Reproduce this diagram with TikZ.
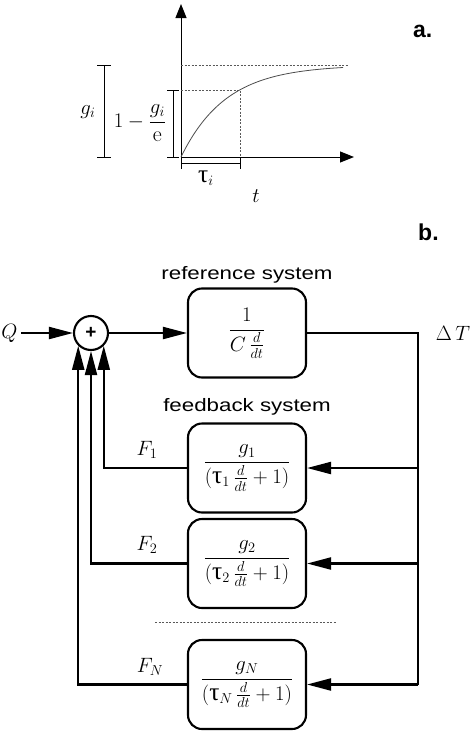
\documentclass[tikz,border=0pt]{standalone}
\usepackage{amsmath}
\usepackage{fontspec}
\setsansfont{Liberation Sans}
\newfontfamily\sfw[FakeStretch=1.24]{Liberation Sans}
\newfontfamily\grk[Scale=1.15]{Liberation Serif}
\usetikzlibrary{arrows.meta,calc}
\newcommand{\utau}{\text{\grk τ}}
\begin{document}
\begin{tikzpicture}[x=1pt,y=-1pt,
  ln/.style={line width=2.1pt},
  arr/.style={line width=2.1pt,-{Triangle[length=24pt,width=12pt]}},
  axis/.style={line width=1pt,-{Triangle[length=14pt,width=11pt]}},
  thin/.style={line width=0.9pt},
  dsh/.style={line width=0.5pt,dash pattern=on 2pt off 1.5pt,gray!70!black},
  blk/.style={draw,line width=2.1pt,rounded corners=14pt,minimum width=118pt,minimum height=89pt,inner sep=0pt,font=\fontsize{22}{26}\selectfont},
  lbl/.style={font=\fontsize{22}{26}\selectfont},
  sflbl/.style={font=\sfw\fontsize{18}{22}\selectfont},
  panel/.style={font=\sffamily\bfseries\fontsize{23}{26}\selectfont,inner sep=0pt,anchor=base west}]
\useasboundingbox (0,0) rectangle (474,731);
% ---------- panel a ----------
\node[panel] (pa) at (413,37) {a.};
\coordinate (o) at (181,157);
\coordinate (ytop) at (181,4);
\coordinate (xend) at (354,157);
\draw[axis] (o) -- (ytop);
\draw[axis] (o) -- (xend);
\coordinate (asy0) at (181,65);
\coordinate (asy1) at (348,65);
\draw[dsh] (asy0) -- (asy1);
\coordinate (tp) at (240,90);
\coordinate (tp0) at (181,90);
\coordinate (tpb) at (240,157);
\draw[dsh] (tp0) -- (tp) -- (tpb);
\draw[line width=0.8pt,gray!60!black] plot[domain=0:162,samples=80] ({181+\x},{157-92*(1-exp(-\x/45))});
% brackets
\draw[thin] (104,65) -- (104,157) (97,65) -- (111,65) (97,157) -- (111,157);
\draw[thin] (173,90) -- (173,157) (167,90) -- (179,90) (167,157) -- (179,157);
\draw[thin] (181,163) -- (240,163) (181,157) -- (181,169) (240,157) -- (240,169);
\node[lbl] (gi) at (88,112) {$g_i$};
\node[lbl] (oneminus) at (140,123) {$1-\dfrac{g_i}{\mathrm{e}}$};
\node[lbl,anchor=base west,inner sep=0pt] (taui) at (198,182) {$\utau_i$};
\node[lbl] (t) at (256,196) {$t$};
% ---------- panel b ----------
\node[panel] (pb) at (418,240) {b.};
\node[sflbl] (reftxt) at (247,275) {reference system};
\node[sflbl] (fbtxt) at (247,407) {feedback system};
\node[blk] (ref) at (247,333) {$\displaystyle\frac{1}{C\,\frac{d}{dt}}$};
\node[blk] (fb1) at (247,468) {$\displaystyle\frac{g_1}{(\utau_1\,\frac{d}{dt}+1)}$};
\node[blk] (fb2) at (247,563.5) {$\displaystyle\frac{g_2}{(\utau_2\,\frac{d}{dt}+1)}$};
\node[blk] (fbN) at (247,684.5) {$\displaystyle\frac{g_N}{(\utau_N\,\frac{d}{dt}+1)}$};
\node[draw,circle,line width=2.1pt,minimum size=34pt,inner sep=0pt,font=\sffamily\bfseries\fontsize{19}{20}\selectfont] (sum) at (91,333) {+};
\node[lbl,anchor=east] (Q) at (21,333) {$Q$};
\node[lbl] (dT) at (453,333) {$\Delta\,T$};
\coordinate (c1) at (418,468);
\coordinate (c2) at (418,563.5);
\coordinate (cN) at (418,684.5);
\draw[arr] (Q) -- (sum);
\draw[arr] (sum) -- (ref);
\draw[ln] (ref.east) -| (cN);
\draw[arr] (c1) -- (fb1.east);
\draw[arr] (c2) -- (fb2.east);
\draw[arr] (cN) -- (fbN.east);
\draw[arr] (fb1.west) -| (sum.-45);
\draw[arr] (fb2.west) -| (sum.-90);
\draw[arr] (fbN.west) -| (sum.-135);
\node[lbl] (F1) at (147,450) {$F_1$};
\node[lbl] (F2) at (147,545) {$F_2$};
\node[lbl] (FN) at (150,667) {$F_N$};
\coordinate (d0) at (155,622);
\coordinate (d1) at (337,622);
\draw[dsh] (d0) -- (d1);
\end{tikzpicture}
\end{document}
